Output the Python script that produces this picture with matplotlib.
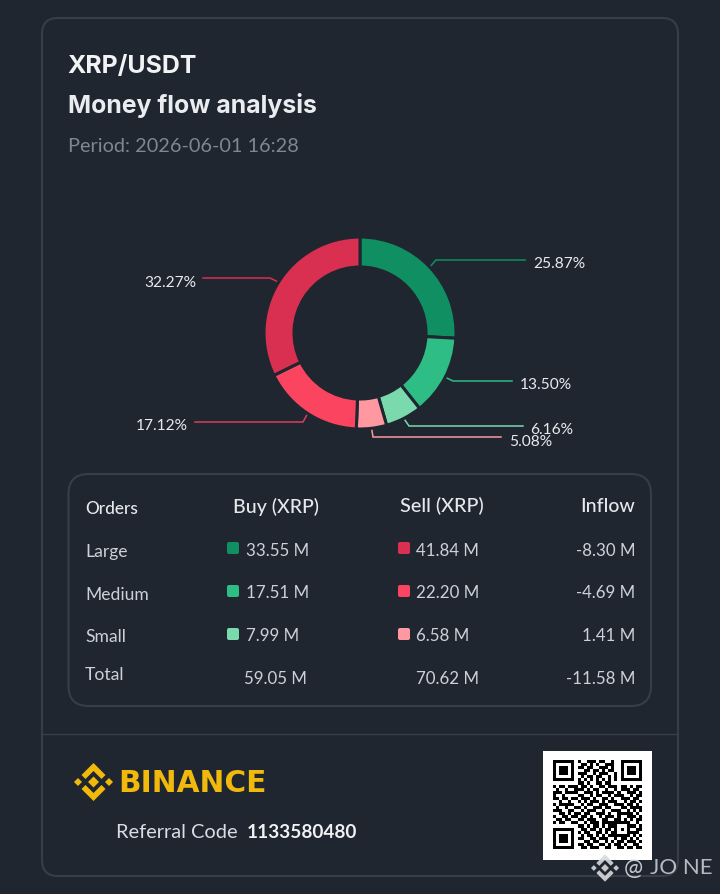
import matplotlib
matplotlib.use("Agg")
import numpy as np
import matplotlib.pyplot as plt
from matplotlib.patches import FancyBboxPatch, Polygon, Rectangle

plt.rcParams['font.family'] = ['Lato', 'DejaVu Sans']
HEAD_FONT = ['Inter', 'DejaVu Sans']

# ---- data
shares = [25.87, 13.50, 6.16, 5.08, 17.12, 32.27]
share_labels = ['25.87%', '13.50%', '6.16%', '5.08%', '17.12%', '32.27%']
colors = ['#0F8F62', '#2EBD85', '#7BD9AE', '#FF98A0', '#FB4560', '#D92F50']
orders = ['Large', 'Medium', 'Small', 'Total']
buy = ['33.55 M', '17.51 M', '7.99 M', '59.05 M']
sell = ['41.84 M', '22.20 M', '6.58 M', '70.62 M']
inflow = ['-8.30 M', '-4.69 M', '1.41 M', '-11.58 M']
buy_colors = ['#0F8F62', '#2EBD85', '#7BD9AE']
sell_colors = ['#D92F50', '#FB4560', '#FF98A0']

qr_rows = [
 "11111110100111011001001111111",
 "10000010011010100111001000001",
 "10111010110110011101001011101",
 "10111010001101101011001011101",
 "10111010111001011100101011101",
 "10000010010110110010101000001",
 "11111110101010101010101111111",
 "00000000110100110110000000000",
 "10110111011010011011101101011",
 "01001001110101100100101110110",
 "11101111001110101111010011101",
 "10010000110010110010111001011",
 "11011011011101001101001110110",
 "00100100101011101011100101101",
 "10111110010110011100111011010",
 "01001001101001110110001101111",
 "11100110010111001001110010101",
 "00110101101100111010011111010",
 "10011011011010010111010011101",
 "01101100110111001100110101011",
 "10110011001011101111111110010",
 "00000000110101101011100011101",
 "11111110011011010110101010011",
 "10000010101100110101100011110",
 "10111010010110101011111110101",
 "10111010110011011100101101010",
 "10111010001101100101011011101",
 "10000010110110011010110100110",
 "11111110011011100110011011011",
]

BG = '#1F2630'
EDGE = '#373E4A'
fig = plt.figure(figsize=(7.2, 8.94), dpi=100, facecolor=BG)
ax = fig.add_axes([0, 0, 1, 1])
ax.set_xlim(0, 720); ax.set_ylim(894, 0); ax.axis('off')

# ---- card and table frames
def rbox(x0, y0, x1, y1, r, ec, lw=1.5):
    ax.add_patch(FancyBboxPatch((x0 + r, y0 + r), x1 - x0 - 2*r, y1 - y0 - 2*r,
                 boxstyle=f"round,pad={r},rounding_size={r}", fc='none', ec=ec, lw=lw, zorder=1))
rbox(42, 18, 678, 876, 16, EDGE)
rbox(68.5, 474, 651, 706, 20, EDGE)
ax.plot([42, 678], [733.5, 733.5], color=EDGE, lw=1)

# ---- header
ax.text(67, 66.5, 'XRP/USDT', color='#F2F3F5', fontsize=17.9, fontweight='bold', va='center', family=HEAD_FONT)
ax.text(68, 105, 'Money flow analysis', color='#EAECEF', fontsize=17.9, fontweight='bold', va='center', family=HEAD_FONT)
ax.text(68, 146, 'Period: 2026-06-01 16:28', color='#7F8793', fontsize=14.35, va='center')

# ---- donut
CX, CY, R = 360, 333, 96
pax = fig.add_axes([(CX - R*1.1)/720, 1 - (CY + R*1.1)/894, 2.2*R/720, 2.2*R/894])
pax.pie(shares, colors=colors, startangle=90, counterclock=False, radius=R,
        wedgeprops=dict(width=R - 66, edgecolor=BG, linewidth=2.2))
pax.set_xlim(-1.1*R, 1.1*R); pax.set_ylim(-1.1*R, 1.1*R)
pax.set_aspect('equal'); pax.axis('off')

# leader lines: start from each wedge's middle angle
elbow = [(436, 260), (453, 381), (409, 426), (373, 437), (303, 422), (270, 278)]
line_end = [525, 512, 523, 501, 195, 203]
label_pos = [(533, 264.5), (520, 385), (530, 430.5), (509, 442), (188, 425.5), (196, 283)]
mid = (np.cumsum(shares) - np.array(shares) / 2) / 100 * 2 * np.pi
line_colors = ['#0F8F62', '#2EBD85', '#7BD9AE', '#FF98A0', '#D8405A', '#D92F50']
for m, c, (ex, ey), xe, (lx, ly), s in zip(mid, line_colors, elbow, line_end, label_pos, share_labels):
    sx, sy = CX + (R + 0.5)*np.sin(m), CY - (R + 0.5)*np.cos(m)
    ax.plot([sx, ex, xe], [sy, ey, ey], color=c, lw=1.1, solid_joinstyle='miter')
    ha = 'right' if lx < CX else 'left'
    ax.text(lx, ly, s, color='#E8E9EC', fontsize=11.2, ha=ha, va='center', zorder=5)

# ---- table
head = '#E6E8EC'; body = '#CDD1D7'
ax.text(85, 509.5, 'Orders', color=head, fontsize=12.4, fontweight='medium', va='center')
ax.text(233, 506.5, 'Buy (XRP)', color=head, fontsize=14, fontweight='medium', va='center')
ax.text(400, 506.5, 'Sell (XRP)', color=head, fontsize=14.2, fontweight='medium', va='center')
ax.text(634.5, 506.5, 'Inflow', color=head, fontsize=14, fontweight='medium', ha='right', va='center')
row_label_y = [552.5, 595, 637.5, 675]
row_value_y = [550.5, 593.5, 636, 678.5]
swatch_y = [548, 591, 634]
for o, y in zip(orders, row_label_y):
    ax.text(85, y, o, color=body, fontsize=12.6, va='center')
for i, y in enumerate(row_value_y):
    if i < 3:
        ax.text(246, y, buy[i], color=body, fontsize=12.2, va='center')
        ax.text(416, y, sell[i], color=body, fontsize=12.2, va='center')
    else:
        ax.text(244.5, y, buy[i], color=body, fontsize=12.2, va='center')
        ax.text(415.5, y, sell[i], color=body, fontsize=12.2, va='center')
    ax.text(635, y, inflow[i], color=body, fontsize=12.2, ha='right', va='center')
for y, bc, sc in zip(swatch_y, buy_colors, sell_colors):
    for x, c in ((233, bc), (404, sc)):
        ax.add_patch(FancyBboxPatch((x - 4, y - 4), 8, 8, boxstyle="round,pad=2,rounding_size=2",
                                    fc=c, ec='none', zorder=3))

# ---- Binance logo
YEL = '#F0B90B'
def logo(cx, cy, k, color, alpha=1.0, z=4):
    shapes = [
        [(0, -5.5), (5.5, 0), (0, 5.5), (-5.5, 0)],
        [(-15.5, -4), (-11.5, 0), (-15.5, 4), (-19.5, 0)],
        [(15.5, -4), (19.5, 0), (15.5, 4), (11.5, 0)],
        [(0, -19), (12, -7), (8, -3), (0, -11), (-8, -3), (-12, -7)],
        [(0, 19), (12, 7), (8, 3), (0, 11), (-8, 3), (-12, 7)],
    ]
    for s in shapes:
        ax.add_patch(Polygon([(cx + k*a, cy + k*b) for a, b in s], fc=color, ec='none', alpha=alpha, zorder=z))
logo(93.5, 782, 1, YEL)
ax.text(118.5, 783, 'BINANCE', color=YEL, fontsize=21.3, fontweight='bold', va='center', family='DejaVu Sans')

ax.text(116, 832, 'Referral Code', color='#DADDE2', fontsize=14.4, va='center')
ax.text(247, 832, '1133580480', color='#F0F1F3', fontsize=13.7, fontweight='bold', va='center')

# ---- QR code
ax.add_patch(Rectangle((543, 751), 109, 109, fc='white', ec='none', zorder=2))
qr = np.array([[int(ch) for ch in row] for row in qr_rows])
ax.imshow(1 - qr, cmap='gray', vmin=0, vmax=1, extent=(553, 641.5, 849.5, 761),
          interpolation='nearest', zorder=3, aspect='auto')
ax.set_xlim(0, 720); ax.set_ylim(894, 0)

# ---- watermark
logo(605, 868, 0.72, '#D8DADD', alpha=0.9, z=6)
ax.text(624, 868, '@', color='#D8DADD', fontsize=16.5, va='center', zorder=6, alpha=0.9)
ax.text(650, 868, 'JO NE', color='#C8CBD0', fontsize=16, va='center', zorder=6, alpha=0.9)

fig.savefig('out.png', dpi=100, facecolor=BG)
